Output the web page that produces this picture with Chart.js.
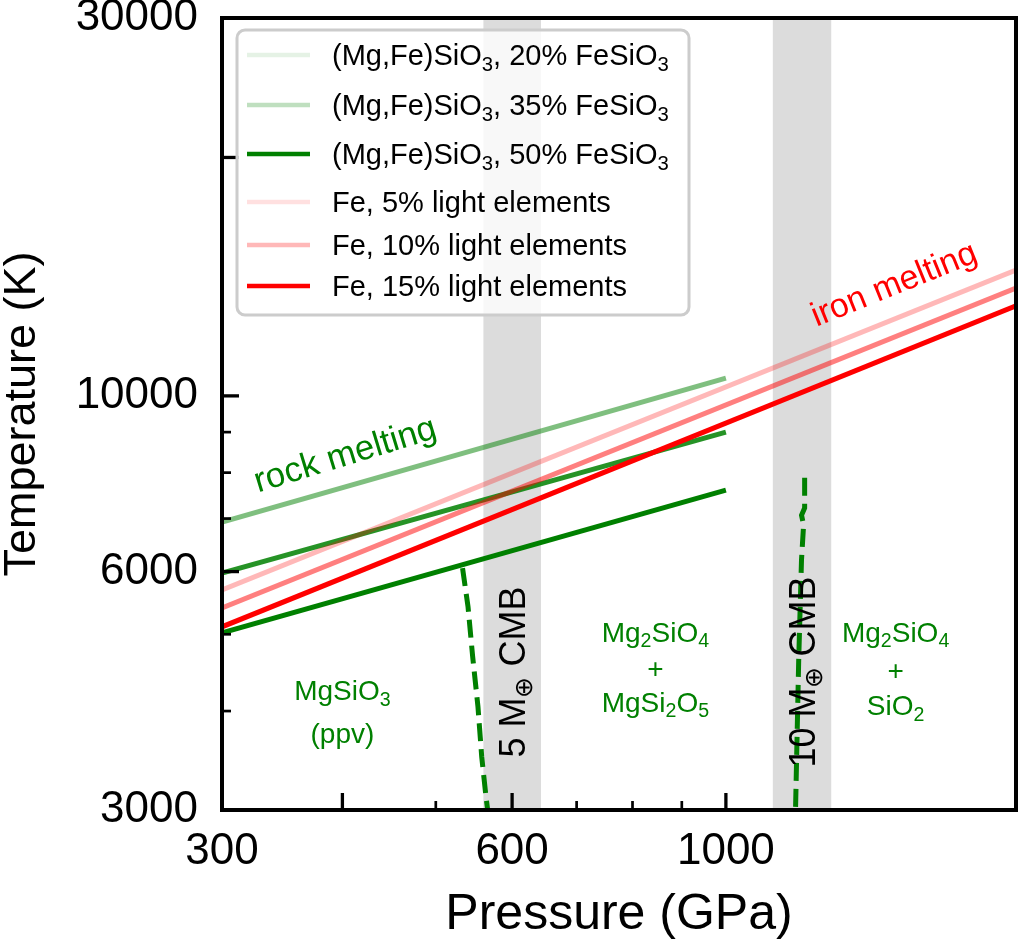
<!DOCTYPE html>
<html lang="en">
<head>
<meta charset="UTF-8">
<title>Rock and iron melting curves</title>
<script src="https://cdn.jsdelivr.net/npm/chart.js"></script>
<style>
  html, body { margin: 0; padding: 0; background: #fff; }
  #wrap { width: 1019px; height: 947px; }
</style>
</head>
<body>
<div id="wrap"><canvas id="chart" width="1019" height="947"></canvas></div>
<script>
// axis limits
const pMin = 300, pMax = 2000;
const tMin = 3000, tMax = 30000;

// rock melting, (Mg,Fe)SiO3 (pressure GPa -> temperature K)
const rockP = [300, 1000];
const rock20 = [6930, 10530];
const rock35 = [5975, 9000];
const rock50 = [5020, 7605];

// iron melting
const ironP = [300, 2000];
const iron5 = [5690, 14420];
const iron10 = [5400, 13680];
const iron15 = [5110, 12990];

// phase boundaries (dashed)
const ppvP = [533, 540, 546, 553, 558, 564, 566];
const ppvT = [6060, 5420, 4690, 4050, 3500, 3100, 3000];
const bdgP = [1207, 1207, 1198, 1204, 1198, 1190, 1181];
const bdgT = [7880, 7220, 7070, 6870, 6210, 4640, 3000];

// core-mantle boundary pressure ranges
const cmbLo = [560, 1118];
const cmbHi = [643, 1287];
const cmbLabels = ['5 M_⊕ CMB', '10 M_⊕ CMB'];

// ticks
const xLabelTicks = [300, 600, 1000];
const xMajorTicks = [400, 600, 1000];
const xMinorTicks = [500, 700, 800, 900];
const yLabelTicks = [3000, 6000, 10000, 30000];
const yMajorTicks = [6000, 10000, 20000];
const yMinorTicks = [4000, 5000, 7000, 8000, 9000];

// text notes: "_x" means subscript x
const notes = [
  { text: 'rock melting', p: 402, t: 8470, color: '#008000', angle: -17, size: 35 },
  { text: 'iron melting', p: 1492, t: 13900, color: '#ff0000', angle: -22, size: 34 },
  { text: 'MgSiO_3', p: 400, t: 4250, color: '#008000', angle: 0, size: 28 },
  { text: '(ppv)', p: 400, t: 3750, color: '#008000', angle: 0, size: 28 },
  { text: 'Mg_2SiO_4', p: 845, t: 5040, color: '#008000', angle: 0, size: 28 },
  { text: '+', p: 845, t: 4530, color: '#008000', angle: 0, size: 28 },
  { text: 'MgSi_2O_5', p: 845, t: 4110, color: '#008000', angle: 0, size: 28 },
  { text: 'Mg_2SiO_4', p: 1500, t: 5040, color: '#008000', angle: 0, size: 28 },
  { text: '+', p: 1500, t: 4510, color: '#008000', angle: 0, size: 28 },
  { text: 'SiO_2', p: 1500, t: 4070, color: '#008000', angle: 0, size: 28 }
];

const FONT = '"Liberation Sans", Arial, Helvetica, sans-serif';

function pts(xs, ys) {
  return xs.map((x, i) => ({ x: x, y: ys[i] }));
}

function line(label, xs, ys, color, legendColor, order) {
  return {
    label: label, data: pts(xs, ys), borderColor: color, legendColor: legendColor,
    borderWidth: 5, pointRadius: 0, fill: false, order: order
  };
}

const datasets = [
  line('(Mg,Fe)SiO_3, 20% FeSiO_3', rockP, rock20, 'rgba(0,128,0,0.5)', 'rgba(0,128,0,0.1)', 5),
  line('(Mg,Fe)SiO_3, 35% FeSiO_3', rockP, rock35, 'rgba(0,128,0,0.85)', 'rgba(0,128,0,0.25)', 4),
  line('(Mg,Fe)SiO_3, 50% FeSiO_3', rockP, rock50, '#008000', '#008000', 3),
  line('Fe, 5% light elements', ironP, iron5, 'rgba(255,0,0,0.28)', 'rgba(255,0,0,0.12)', 2),
  line('Fe, 10% light elements', ironP, iron10, 'rgba(255,0,0,0.5)', 'rgba(255,0,0,0.28)', 1),
  line('Fe, 15% light elements', ironP, iron15, '#ff0000', '#ff0000', 0),
  { label: 'ppv', data: pts(ppvP, ppvT), borderColor: '#008000', borderWidth: 5, borderDash: [18, 8], pointRadius: 0, fill: false, order: 6 },
  { label: 'bdg', data: pts(bdgP, bdgT), borderColor: '#008000', borderWidth: 5, borderDash: [18, 8], pointRadius: 0, fill: false, order: 6 }
];
cmbLo.forEach((lo, i) => {
  datasets.push({
    label: cmbLabels[i], data: [{ x: lo, y: tMax }, { x: cmbHi[i], y: tMax }],
    borderWidth: 0, pointRadius: 0, fill: 'start', backgroundColor: '#dcdcdc', order: 20
  });
});

// split "_x" markup into normal / subscript pieces
function richParts(str) {
  const parts = [];
  for (let i = 0; i < str.length; i++) {
    if (str[i] === '_' && i + 1 < str.length) {
      parts.push({ t: str[i + 1], sub: true });
      i++;
    } else if (parts.length && !parts[parts.length - 1].sub) {
      parts[parts.length - 1].t += str[i];
    } else {
      parts.push({ t: str[i], sub: false });
    }
  }
  return parts;
}

// y is the visual middle of the capitals
function drawRich(ctx, str, x, y, size, align) {
  const parts = richParts(str);
  const fontOf = p => (p.sub ? size * 0.7 : size) + 'px ' + FONT;
  let w = 0;
  parts.forEach(p => { ctx.font = fontOf(p); p.w = ctx.measureText(p.t).width; w += p.w; });
  let cx = align === 'center' ? x - w / 2 : x;
  ctx.textAlign = 'left';
  ctx.textBaseline = 'alphabetic';
  const base = y + size * 0.358;
  parts.forEach(p => {
    ctx.font = fontOf(p);
    ctx.fillText(p.t, cx, p.sub ? base + size * 0.2 : base);
    cx += p.w;
  });
}

const decorations = {
  id: 'decorations',
  afterDatasetsDraw(chart) {
    const ctx = chart.ctx;
    const xs = chart.scales.x, ys = chart.scales.y;
    const a = chart.chartArea;

    ctx.save();
    ctx.beginPath();
    ctx.rect(a.left, a.top, a.right - a.left, a.bottom - a.top);
    ctx.clip();
    notes.forEach(n => {
      ctx.save();
      ctx.translate(xs.getPixelForValue(n.p), ys.getPixelForValue(n.t));
      ctx.rotate(n.angle * Math.PI / 180);
      ctx.fillStyle = n.color;
      drawRich(ctx, n.text, 0, 0, n.size, 'center');
      ctx.restore();
    });
    cmbLabels.forEach((txt, i) => {
      ctx.save();
      ctx.translate(xs.getPixelForValue(Math.sqrt(cmbLo[i] * cmbHi[i])), ys.getPixelForValue(4480));
      ctx.rotate(-Math.PI / 2);
      ctx.fillStyle = '#000';
      drawRich(ctx, txt, 0, 0, 36, 'center');
      ctx.restore();
    });
    ctx.restore();

    // frame
    ctx.save();
    ctx.strokeStyle = '#000';
    ctx.lineWidth = 4;
    ctx.strokeRect(a.left, a.top, a.right - a.left, a.bottom - a.top);

    // inward ticks
    const tick = (vals, len, width, horiz) => {
      ctx.lineWidth = width;
      vals.forEach(v => {
        ctx.beginPath();
        if (horiz) {
          const px = xs.getPixelForValue(v);
          ctx.moveTo(px, a.bottom);
          ctx.lineTo(px, a.bottom - len);
        } else {
          const py = ys.getPixelForValue(v);
          ctx.moveTo(a.left, py);
          ctx.lineTo(a.left + len, py);
        }
        ctx.stroke();
      });
    };
    tick(xMajorTicks, 17, 3.3, true);
    tick(xMinorTicks, 9, 2.7, true);
    tick(yMajorTicks, 17, 3.3, false);
    tick(yMinorTicks, 9, 2.7, false);
    ctx.restore();

    // legend
    const lx = a.left + 15, ly = a.top + 12, lw = 452, lh = 285;
    ctx.save();
    ctx.beginPath();
    ctx.roundRect(lx, ly, lw, lh, 8);
    ctx.fillStyle = 'rgba(255,255,255,0.8)';
    ctx.fill();
    ctx.strokeStyle = '#cccccc';
    ctx.lineWidth = 3;
    ctx.stroke();
    const rowY = [37, 87, 136, 184, 227, 268];
    const entries = chart.data.datasets.filter(d => d.legendColor);
    entries.forEach((d, i) => {
      const y = a.top + rowY[i];
      ctx.strokeStyle = d.legendColor;
      ctx.lineWidth = 4.5;
      ctx.beginPath();
      ctx.moveTo(a.left + 25, y);
      ctx.lineTo(a.left + 88, y);
      ctx.stroke();
      ctx.fillStyle = '#000';
      drawRich(ctx, d.label, a.left + 110, y, 29, 'left');
    });
    ctx.restore();
  }
};

new Chart(document.getElementById('chart'), {
  type: 'line',
  data: { datasets: datasets },
  plugins: [decorations],
  options: {
    responsive: false,
    devicePixelRatio: 1,
    animation: false,
    layout: { padding: { top: 18, right: 3, left: 0, bottom: 0 } },
    plugins: { legend: { display: false }, tooltip: { enabled: false } },
    scales: {
      x: {
        type: 'logarithmic', min: pMin, max: pMax,
        afterBuildTicks: s => { s.ticks = xLabelTicks.map(v => ({ value: v })); },
        afterFit: s => { s.height = 137; s.paddingLeft = 0; s.paddingRight = 0; },
        ticks: { callback: v => String(v), color: '#000', font: { family: FONT, size: 44, lineHeight: 1.2 }, padding: 15, maxRotation: 0, autoSkip: false },
        grid: { display: false, drawTicks: false },
        border: { display: false },
        title: { display: true, text: 'Pressure (GPa)', color: '#000', font: { family: FONT, size: 50, lineHeight: 1 }, padding: { top: 7, bottom: 7 } }
      },
      y: {
        type: 'logarithmic', min: tMin, max: tMax,
        afterBuildTicks: s => { s.ticks = yLabelTicks.map(v => ({ value: v })); },
        afterFit: s => { s.width = 222; s.paddingTop = 0; s.paddingBottom = 0; },
        ticks: { callback: v => String(v), color: '#000', font: { family: FONT, size: 44 }, padding: 24, autoSkip: false },
        grid: { display: false, drawTicks: false },
        border: { display: false },
        title: { display: true, text: 'Temperature (K)', color: '#000', font: { family: FONT, size: 45, lineHeight: 1 }, padding: { top: 0, bottom: 0 } }
      }
    }
  }
});
</script>
</body>
</html>
